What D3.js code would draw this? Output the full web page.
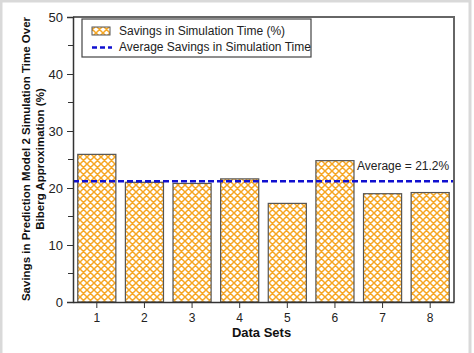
<!DOCTYPE html>
<html>
<head>
<meta charset="utf-8">
<script src="https://cdn.jsdelivr.net/npm/d3@7"></script>
<style>
  body { margin: 0; background: #fff; }
  svg { display: block; font-family: "Liberation Sans", Arial, sans-serif; }
</style>
</head>
<body>
<div id="chart"></div>
<script>
var categories = ["1", "2", "3", "4", "5", "6", "7", "8"];
var savings = [25.9, 21.0, 20.8, 21.6, 17.3, 24.8, 19.0, 19.2];
var average = 21.2;
var yTicks = [0, 10, 20, 30, 40, 50];
var yMinorTicks = [5, 15, 25, 35, 45];

var W = 474, H = 353;
var margin = { top: 17, right: 20, bottom: 51, left: 73 },
    width = 454 - margin.left,
    height = 302 - margin.top;

var svg = d3.select('#chart').append('svg')
    .attr('width', W)
    .attr('height', H);

// light grey frame round the picture
svg.append('rect')
    .attr('x', 1).attr('y', 1)
    .attr('width', W - 5).attr('height', H + 4)
    .attr('fill', 'none')
    .attr('stroke', '#d9d9d9')
    .attr('stroke-width', 3);

var defs = svg.append('defs');
var pat = defs.append('pattern')
    .attr('id', 'hatch')
    .attr('patternUnits', 'userSpaceOnUse')
    .attr('width', 7).attr('height', 7);
pat.append('rect').attr('width', 7).attr('height', 7).attr('fill', '#fff');
pat.append('path')
    .attr('d', 'M0,0L7,7M7,0L0,7M-1,6L1,8M6,-1L8,1M-1,1L1,-1M6,8L8,6')
    .attr('stroke', '#f6a623')
    .attr('stroke-width', 1.5);

var g = svg.append('g')
    .attr('transform', 'translate(' + margin.left + ',' + margin.top + ')');

var x = d3.scaleBand()
    .domain(categories)
    .range([0, width])
    .paddingInner(0.2)
    .paddingOuter(0.1);

var y = d3.scaleLinear()
    .domain([0, 50])
    .range([height, 0]);

// bars
g.selectAll('rect.bar')
    .data(savings)
    .enter().append('rect')
    .attr('class', 'bar')
    .attr('x', (d, i) => x(categories[i]))
    .attr('y', (d) => y(d))
    .attr('width', x.bandwidth())
    .attr('height', (d) => height - y(d))
    .attr('fill', 'url(#hatch)')
    .attr('stroke', '#555')
    .attr('stroke-width', 1.2);

// average line
g.append('line')
    .attr('x1', 0).attr('x2', width)
    .attr('y1', y(average)).attr('y2', y(average))
    .attr('stroke', '#1010d0')
    .attr('stroke-width', 2.5)
    .attr('stroke-dasharray', '6,3');

g.append('text')
    .attr('x', x('6') + x.bandwidth() + 3)
    .attr('y', y(average) - 11)
    .attr('font-size', '12px')
    .attr('fill', '#222')
    .text('Average = ' + average + '%');

// frame top and right
g.append('path')
    .attr('d', 'M0,0H' + width + 'V' + height)
    .attr('fill', 'none')
    .attr('stroke', '#666')
    .attr('stroke-width', 2);

// y axis
var yAxis = g.append('g')
    .call(d3.axisLeft(y).tickValues(yTicks).tickSize(6).tickPadding(4));
yAxis.append('g').selectAll('line')
    .data(yMinorTicks)
    .enter().append('line')
    .attr('x1', -5).attr('x2', 0)
    .attr('y1', (d) => y(d)).attr('y2', (d) => y(d))
    .attr('stroke', '#333');
yAxis.select('.domain').attr('stroke', '#333').attr('stroke-width', 1.5);
yAxis.selectAll('.tick line').attr('stroke', '#333');
yAxis.selectAll('text')
    .attr('font-size', '13px')
    .attr('font-family', '"Liberation Sans", Arial, sans-serif')
    .attr('fill', '#222');

// x axis
var xAxis = g.append('g')
    .attr('transform', 'translate(0,' + height + ')')
    .call(d3.axisBottom(x).tickSize(6).tickPadding(5).tickSizeOuter(0));
xAxis.select('.domain').attr('stroke', '#333').attr('stroke-width', 1.5);
xAxis.selectAll('.tick line').attr('stroke', '#333');
xAxis.selectAll('text')
    .attr('font-size', '12px')
    .attr('font-family', '"Liberation Sans", Arial, sans-serif')
    .attr('fill', '#222');

// axis titles
svg.append('text')
    .attr('x', margin.left + width / 2 - 2)
    .attr('y', 337)
    .attr('text-anchor', 'middle')
    .attr('font-size', '13px')
    .attr('font-weight', 'bold')
    .attr('fill', '#111')
    .text('Data Sets');

var yTitle = svg.append('text')
    .attr('transform', 'translate(0,' + (margin.top + 142) + ') rotate(-90)')
    .attr('text-anchor', 'middle')
    .attr('font-size', '11.5px')
    .attr('font-weight', 'bold')
    .attr('fill', '#111');
yTitle.append('tspan').attr('x', 0).attr('y', 30)
    .text('Savings in Prediction Model 2 Simulation Time Over');
yTitle.append('tspan').attr('x', 0).attr('y', 44)
    .text('Biberg Approximation (%)');

// legend
var legend = svg.append('g').attr('transform', 'translate(82,19)');
legend.append('rect')
    .attr('width', 229).attr('height', 38)
    .attr('fill', '#fff')
    .attr('stroke', '#444')
    .attr('stroke-width', 1.2);
legend.append('rect')
    .attr('x', 10).attr('y', 8)
    .attr('width', 18).attr('height', 8)
    .attr('fill', 'url(#hatch)')
    .attr('stroke', '#555');
legend.append('line')
    .attr('x1', 10).attr('x2', 30)
    .attr('y1', 28.5).attr('y2', 28.5)
    .attr('stroke', '#1010d0')
    .attr('stroke-width', 2.5)
    .attr('stroke-dasharray', '5,3');
legend.append('text')
    .attr('x', 37).attr('y', 16)
    .attr('font-size', '12px')
    .attr('fill', '#222')
    .text('Savings in Simulation Time (%)');
legend.append('text')
    .attr('x', 37).attr('y', 32)
    .attr('font-size', '12px')
    .attr('fill', '#222')
    .text('Average Savings in Simulation Time');
</script>
</body>
</html>
